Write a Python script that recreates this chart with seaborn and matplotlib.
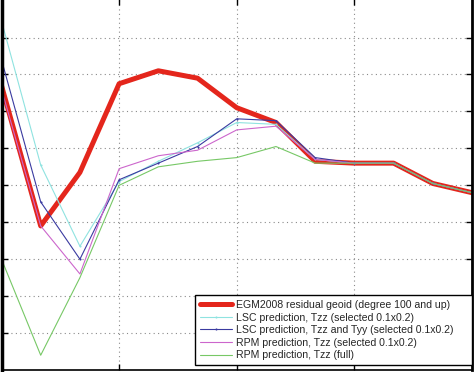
import matplotlib
matplotlib.use("Agg")
import matplotlib.pyplot as plt
import seaborn as sns
import numpy as np
import pandas as pd

# x positions (profile points) and values in grid units
x_pts = list(range(13))
egm2008 = [7.7, 3.9, 5.35, 7.75, 8.1, 7.9, 7.1, 6.7, 5.65, 5.6, 5.6, 5.05, 4.8]
lsc_tzz = [9.45, 5.55, 3.35, 5.1, 5.65, 6.15, 6.7, 6.65, 5.7, 5.6, 5.6, 5.05, 4.8]
lsc_tzz_tyy = [8.4, 4.55, 3.0, 5.15, 5.6, 6.05, 6.8, 6.75, 5.75, 5.6, 5.6, 5.05, 4.8]
rpm_tzz_sel = [7.6, 3.9, 2.6, 5.45, 5.8, 5.95, 6.5, 6.6, 5.7, 5.6, 5.6, 5.05, 4.8]
rpm_tzz_full = [3.0, 0.4, 2.5, 5.0, 5.5, 5.65, 5.75, 6.05, 5.6, 5.6, 5.6, 5.05, 4.8]

labels = [
    "EGM2008 residual geoid (degree 100 and up)",
    "LSC prediction, Tzz (selected 0.1x0.2)",
    "LSC prediction, Tzz and Tyy (selected 0.1x0.2)",
    "RPM prediction, Tzz (selected 0.1x0.2)",
    "RPM prediction, Tzz (full)",
]
series = [egm2008, lsc_tzz, lsc_tzz_tyy, rpm_tzz_sel, rpm_tzz_full]
colors = ["#e4261c", "#8fe3e0", "#3a3aa0", "#cc66cc", "#77c866"]
widths = [3.6, 0.8, 0.8, 0.8, 0.8]
markers = [None, ".", ".", None, None]

sns.set_style("white")
plt.rcParams["font.family"] = ["Liberation Sans", "DejaVu Sans"]

fig = plt.figure(figsize=(4.74, 3.72), dpi=100)
ax = fig.add_axes([1.5 / 474, 2 / 372, (472 - 1.5) / 474, 370.5 / 372])

for vals, lab, c, lw, m in zip(series, labels, colors, widths, markers):
    df = pd.DataFrame({"x": x_pts, "y": vals})
    sns.lineplot(data=df, x="x", y="y", ax=ax, color=c, linewidth=lw,
                 marker=m, markersize=3, markeredgewidth=0, label=lab)

ax.set_xlim(0, 12)
ax.set_ylim(0, 10.03)
ax.set_xticks([3, 6, 9])
ax.set_yticks(range(1, 10))
ax.set_xticklabels([])
ax.set_yticklabels([])
ax.set_xlabel("")
ax.set_ylabel("")
ax.grid(True, linestyle=(0, (1, 3)), color="#8a8a8a", linewidth=0.8)
ax.tick_params(direction="in", length=4, width=1, color="black",
               top=True, right=True, bottom=True, left=True)
for side, sp in ax.spines.items():
    sp.set_color("black")
    sp.set_linewidth(1.2)
ax.spines["left"].set_linewidth(2.5)
ax.spines["right"].set_linewidth(2.0)

leg = ax.legend(loc="lower left",
                bbox_to_anchor=(195 / 474, (372 - 365) / 372, 277 / 474, 0.15),
                bbox_transform=fig.transFigure, borderaxespad=0, mode="expand",
                fontsize=7.6, handlelength=3.1, labelspacing=0.24,
                handletextpad=0.3, borderpad=0.45, fancybox=False,
                framealpha=1, edgecolor="black")
leg.get_frame().set_linewidth(1.0)

fig.savefig("out.png", dpi=100)
